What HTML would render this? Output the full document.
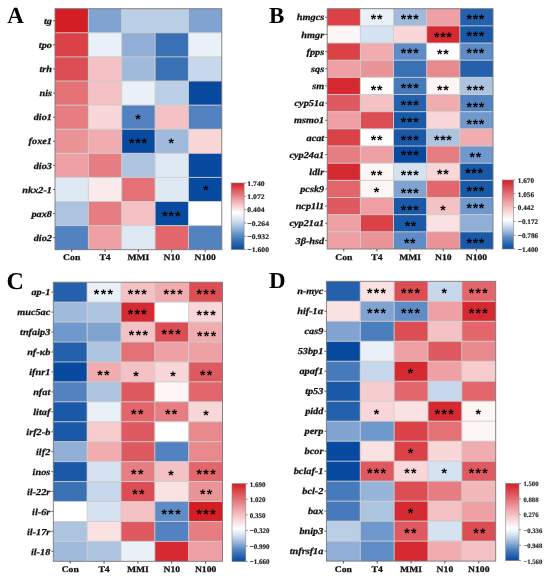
<!DOCTYPE html>
<html><head><meta charset="utf-8"><title>Heatmaps</title><style>html,body{margin:0;padding:0;background:#fff;}
svg{display:block;filter:blur(0.35px);}
text{text-rendering:geometricPrecision;}
.rl{font-family:"Liberation Serif",serif;font-weight:bold;font-style:italic;font-size:9.1px;fill:#111;stroke:#111;stroke-width:0.25px;}
.cl{font-family:"Liberation Serif",serif;font-weight:bold;font-size:8.6px;fill:#111;stroke:#111;stroke-width:0.25px;}
.cb{font-family:"Liberation Serif",serif;font-weight:bold;font-size:7.0px;fill:#222;stroke:#222;stroke-width:0.15px;}
.st{font-family:"Liberation Sans",sans-serif;font-weight:bold;font-size:14px;fill:#000;letter-spacing:0.7px;}
.lt{font-family:"Liberation Serif",serif;font-weight:bold;font-size:23px;fill:#000;}</style></head><body>
<svg width="550" height="579" viewBox="0 0 550 579">
<rect width="550" height="579" fill="#fff"/>
<defs>
<linearGradient id="cbgA" x1="0" y1="0" x2="0" y2="1">
<stop offset="0.000" stop-color="#d41e26"/>
<stop offset="0.025" stop-color="#d62b33"/>
<stop offset="0.050" stop-color="#d93940"/>
<stop offset="0.075" stop-color="#dc464c"/>
<stop offset="0.100" stop-color="#de5359"/>
<stop offset="0.125" stop-color="#e06066"/>
<stop offset="0.150" stop-color="#e36d73"/>
<stop offset="0.175" stop-color="#e67a7f"/>
<stop offset="0.200" stop-color="#e8878c"/>
<stop offset="0.225" stop-color="#eb9498"/>
<stop offset="0.250" stop-color="#eea2a5"/>
<stop offset="0.275" stop-color="#f0aeb1"/>
<stop offset="0.300" stop-color="#f3babd"/>
<stop offset="0.325" stop-color="#f6c6c8"/>
<stop offset="0.350" stop-color="#f8d2d3"/>
<stop offset="0.375" stop-color="#fadede"/>
<stop offset="0.400" stop-color="#fce9e9"/>
<stop offset="0.425" stop-color="#fdf4f4"/>
<stop offset="0.450" stop-color="#ffffff"/>
<stop offset="0.475" stop-color="#f5f8fc"/>
<stop offset="0.500" stop-color="#ebf2f9"/>
<stop offset="0.525" stop-color="#e2ebf5"/>
<stop offset="0.550" stop-color="#d8e5f2"/>
<stop offset="0.575" stop-color="#cdddee"/>
<stop offset="0.600" stop-color="#c1d3e9"/>
<stop offset="0.625" stop-color="#b5cae5"/>
<stop offset="0.650" stop-color="#a9c1e0"/>
<stop offset="0.675" stop-color="#9db8db"/>
<stop offset="0.700" stop-color="#8eadd6"/>
<stop offset="0.725" stop-color="#80a3d1"/>
<stop offset="0.750" stop-color="#7199cc"/>
<stop offset="0.775" stop-color="#628ec7"/>
<stop offset="0.800" stop-color="#5685c2"/>
<stop offset="0.825" stop-color="#4b7dbd"/>
<stop offset="0.850" stop-color="#3f75b7"/>
<stop offset="0.875" stop-color="#346db2"/>
<stop offset="0.900" stop-color="#2a65ae"/>
<stop offset="0.925" stop-color="#215eaa"/>
<stop offset="0.950" stop-color="#1958a7"/>
<stop offset="0.975" stop-color="#1051a3"/>
<stop offset="1.000" stop-color="#084aa0"/>
</linearGradient>
<linearGradient id="cbgB" x1="0" y1="0" x2="0" y2="1">
<stop offset="0.000" stop-color="#d41e26"/>
<stop offset="0.025" stop-color="#d62830"/>
<stop offset="0.050" stop-color="#d8333a"/>
<stop offset="0.075" stop-color="#da3d44"/>
<stop offset="0.100" stop-color="#dc484e"/>
<stop offset="0.125" stop-color="#de5258"/>
<stop offset="0.150" stop-color="#e05c62"/>
<stop offset="0.175" stop-color="#e2676c"/>
<stop offset="0.200" stop-color="#e47176"/>
<stop offset="0.225" stop-color="#e67b80"/>
<stop offset="0.250" stop-color="#e8858a"/>
<stop offset="0.275" stop-color="#ea8f94"/>
<stop offset="0.300" stop-color="#ec9a9d"/>
<stop offset="0.325" stop-color="#eea4a7"/>
<stop offset="0.350" stop-color="#f0aeb1"/>
<stop offset="0.375" stop-color="#f2b7ba"/>
<stop offset="0.400" stop-color="#f4c1c3"/>
<stop offset="0.425" stop-color="#f6cacc"/>
<stop offset="0.450" stop-color="#f8d3d4"/>
<stop offset="0.475" stop-color="#fadcdd"/>
<stop offset="0.500" stop-color="#fbe5e6"/>
<stop offset="0.525" stop-color="#fceeee"/>
<stop offset="0.550" stop-color="#fef6f7"/>
<stop offset="0.575" stop-color="#ffffff"/>
<stop offset="0.600" stop-color="#f2f6fb"/>
<stop offset="0.625" stop-color="#e6eef7"/>
<stop offset="0.650" stop-color="#d9e5f3"/>
<stop offset="0.675" stop-color="#cbdbed"/>
<stop offset="0.700" stop-color="#bccfe7"/>
<stop offset="0.725" stop-color="#acc3e1"/>
<stop offset="0.750" stop-color="#9cb7db"/>
<stop offset="0.775" stop-color="#89aad4"/>
<stop offset="0.800" stop-color="#769cce"/>
<stop offset="0.825" stop-color="#638fc7"/>
<stop offset="0.850" stop-color="#5384c1"/>
<stop offset="0.875" stop-color="#4579ba"/>
<stop offset="0.900" stop-color="#366eb3"/>
<stop offset="0.925" stop-color="#2964ad"/>
<stop offset="0.950" stop-color="#1e5ca9"/>
<stop offset="0.975" stop-color="#1353a4"/>
<stop offset="1.000" stop-color="#084aa0"/>
</linearGradient>
<linearGradient id="cbgC" x1="0" y1="0" x2="0" y2="1">
<stop offset="0.000" stop-color="#d41e26"/>
<stop offset="0.025" stop-color="#d62830"/>
<stop offset="0.050" stop-color="#d8333a"/>
<stop offset="0.075" stop-color="#da3d44"/>
<stop offset="0.100" stop-color="#dc484e"/>
<stop offset="0.125" stop-color="#de5258"/>
<stop offset="0.150" stop-color="#e05c62"/>
<stop offset="0.175" stop-color="#e2666c"/>
<stop offset="0.200" stop-color="#e47076"/>
<stop offset="0.225" stop-color="#e67a80"/>
<stop offset="0.250" stop-color="#e88589"/>
<stop offset="0.275" stop-color="#ea8f93"/>
<stop offset="0.300" stop-color="#ec999d"/>
<stop offset="0.325" stop-color="#eea3a7"/>
<stop offset="0.350" stop-color="#f0adb0"/>
<stop offset="0.375" stop-color="#f2b6b9"/>
<stop offset="0.400" stop-color="#f4c0c2"/>
<stop offset="0.425" stop-color="#f6c9cb"/>
<stop offset="0.450" stop-color="#f8d2d4"/>
<stop offset="0.475" stop-color="#fadbdc"/>
<stop offset="0.500" stop-color="#fbe4e5"/>
<stop offset="0.525" stop-color="#fceded"/>
<stop offset="0.550" stop-color="#fef5f6"/>
<stop offset="0.575" stop-color="#fffefe"/>
<stop offset="0.600" stop-color="#f4f7fb"/>
<stop offset="0.625" stop-color="#e7eff7"/>
<stop offset="0.650" stop-color="#dae6f3"/>
<stop offset="0.675" stop-color="#ccdcee"/>
<stop offset="0.700" stop-color="#bdd0e8"/>
<stop offset="0.725" stop-color="#adc4e1"/>
<stop offset="0.750" stop-color="#9eb8db"/>
<stop offset="0.775" stop-color="#8aabd5"/>
<stop offset="0.800" stop-color="#779dce"/>
<stop offset="0.825" stop-color="#648fc8"/>
<stop offset="0.850" stop-color="#5484c1"/>
<stop offset="0.875" stop-color="#4579ba"/>
<stop offset="0.900" stop-color="#366fb3"/>
<stop offset="0.925" stop-color="#2965ad"/>
<stop offset="0.950" stop-color="#1e5ca9"/>
<stop offset="0.975" stop-color="#1353a4"/>
<stop offset="1.000" stop-color="#084aa0"/>
</linearGradient>
<linearGradient id="cbgD" x1="0" y1="0" x2="0" y2="1">
<stop offset="0.000" stop-color="#d41e26"/>
<stop offset="0.025" stop-color="#d62830"/>
<stop offset="0.050" stop-color="#d8333a"/>
<stop offset="0.075" stop-color="#da3d44"/>
<stop offset="0.100" stop-color="#dc474d"/>
<stop offset="0.125" stop-color="#de5157"/>
<stop offset="0.150" stop-color="#e05b61"/>
<stop offset="0.175" stop-color="#e1656b"/>
<stop offset="0.200" stop-color="#e36f75"/>
<stop offset="0.225" stop-color="#e57a7f"/>
<stop offset="0.250" stop-color="#e78488"/>
<stop offset="0.275" stop-color="#ea8e92"/>
<stop offset="0.300" stop-color="#ec989c"/>
<stop offset="0.325" stop-color="#eea2a5"/>
<stop offset="0.350" stop-color="#f0acaf"/>
<stop offset="0.375" stop-color="#f2b5b8"/>
<stop offset="0.400" stop-color="#f4bec0"/>
<stop offset="0.425" stop-color="#f6c7c9"/>
<stop offset="0.450" stop-color="#f8d1d2"/>
<stop offset="0.475" stop-color="#f9dadb"/>
<stop offset="0.500" stop-color="#fbe2e3"/>
<stop offset="0.525" stop-color="#fcebeb"/>
<stop offset="0.550" stop-color="#fdf3f4"/>
<stop offset="0.575" stop-color="#fffcfc"/>
<stop offset="0.600" stop-color="#f7f9fc"/>
<stop offset="0.625" stop-color="#eaf1f8"/>
<stop offset="0.650" stop-color="#dde8f4"/>
<stop offset="0.675" stop-color="#cfdeef"/>
<stop offset="0.700" stop-color="#c0d2e9"/>
<stop offset="0.725" stop-color="#b0c6e2"/>
<stop offset="0.750" stop-color="#a0badc"/>
<stop offset="0.775" stop-color="#8dacd5"/>
<stop offset="0.800" stop-color="#799fcf"/>
<stop offset="0.825" stop-color="#6691c8"/>
<stop offset="0.850" stop-color="#5585c1"/>
<stop offset="0.875" stop-color="#467abb"/>
<stop offset="0.900" stop-color="#376fb4"/>
<stop offset="0.925" stop-color="#2965ae"/>
<stop offset="0.950" stop-color="#1e5ca9"/>
<stop offset="0.975" stop-color="#1353a5"/>
<stop offset="1.000" stop-color="#084aa0"/>
</linearGradient>
</defs>
<rect x="55.00" y="8.70" width="33.41" height="24.15" fill="#d41e26"/>
<rect x="88.36" y="8.70" width="33.41" height="24.15" fill="#80a3d1"/>
<rect x="121.72" y="8.70" width="33.41" height="24.15" fill="#bacee6"/>
<rect x="155.08" y="8.70" width="33.41" height="24.15" fill="#bacee6"/>
<rect x="188.44" y="8.70" width="33.41" height="24.15" fill="#80a3d1"/>
<rect x="55.00" y="32.80" width="33.41" height="24.15" fill="#db4248"/>
<rect x="88.36" y="32.80" width="33.41" height="24.15" fill="#eaf0f8"/>
<rect x="121.72" y="32.80" width="33.41" height="24.15" fill="#90aed6"/>
<rect x="155.08" y="32.80" width="33.41" height="24.15" fill="#3a71b5"/>
<rect x="188.44" y="32.80" width="33.41" height="24.15" fill="#eaf0f8"/>
<rect x="55.00" y="56.90" width="33.41" height="24.15" fill="#dd4e54"/>
<rect x="88.36" y="56.90" width="33.41" height="24.15" fill="#f4c2c4"/>
<rect x="121.72" y="56.90" width="33.41" height="24.15" fill="#a0badc"/>
<rect x="155.08" y="56.90" width="33.41" height="24.15" fill="#3a71b5"/>
<rect x="188.44" y="56.90" width="33.41" height="24.15" fill="#c7d8ec"/>
<rect x="55.00" y="81.00" width="33.41" height="24.15" fill="#e47176"/>
<rect x="88.36" y="81.00" width="33.41" height="24.15" fill="#f4c2c4"/>
<rect x="121.72" y="81.00" width="33.41" height="24.15" fill="#eaf0f8"/>
<rect x="155.08" y="81.00" width="33.41" height="24.15" fill="#bacee6"/>
<rect x="188.44" y="81.00" width="33.41" height="24.15" fill="#084aa0"/>
<rect x="55.00" y="105.10" width="33.41" height="24.15" fill="#e67d82"/>
<rect x="88.36" y="105.10" width="33.41" height="24.15" fill="#f9d7d8"/>
<rect x="121.72" y="105.10" width="33.41" height="24.15" fill="#5283c0"/>
<rect x="155.08" y="105.10" width="33.41" height="24.15" fill="#f4c2c4"/>
<rect x="188.44" y="105.10" width="33.41" height="24.15" fill="#5283c0"/>
<rect x="55.00" y="129.20" width="33.41" height="24.15" fill="#eb9498"/>
<rect x="88.36" y="129.20" width="33.41" height="24.15" fill="#f0acaf"/>
<rect x="121.72" y="129.20" width="33.41" height="24.15" fill="#084aa0"/>
<rect x="155.08" y="129.20" width="33.41" height="24.15" fill="#a0badc"/>
<rect x="188.44" y="129.20" width="33.41" height="24.15" fill="#f9d7d8"/>
<rect x="55.00" y="153.30" width="33.41" height="24.15" fill="#eea0a4"/>
<rect x="88.36" y="153.30" width="33.41" height="24.15" fill="#e67d82"/>
<rect x="121.72" y="153.30" width="33.41" height="24.15" fill="#adc4e1"/>
<rect x="155.08" y="153.30" width="33.41" height="24.15" fill="#dfe9f4"/>
<rect x="188.44" y="153.30" width="33.41" height="24.15" fill="#084aa0"/>
<rect x="55.00" y="177.40" width="33.41" height="24.15" fill="#dfe9f4"/>
<rect x="88.36" y="177.40" width="33.41" height="24.15" fill="#fcebec"/>
<rect x="121.72" y="177.40" width="33.41" height="24.15" fill="#e47176"/>
<rect x="155.08" y="177.40" width="33.41" height="24.15" fill="#dfe9f4"/>
<rect x="188.44" y="177.40" width="33.41" height="24.15" fill="#084aa0"/>
<rect x="55.00" y="201.50" width="33.41" height="24.15" fill="#adc4e1"/>
<rect x="88.36" y="201.50" width="33.41" height="24.15" fill="#e67d82"/>
<rect x="121.72" y="201.50" width="33.41" height="24.15" fill="#f4c2c4"/>
<rect x="155.08" y="201.50" width="33.41" height="24.15" fill="#084aa0"/>
<rect x="188.44" y="201.50" width="33.41" height="24.15" fill="#ffffff"/>
<rect x="55.00" y="225.60" width="33.41" height="24.15" fill="#5283c0"/>
<rect x="88.36" y="225.60" width="33.41" height="24.15" fill="#eea0a4"/>
<rect x="121.72" y="225.60" width="33.41" height="24.15" fill="#dfe9f4"/>
<rect x="155.08" y="225.60" width="33.41" height="24.15" fill="#e2666b"/>
<rect x="188.44" y="225.60" width="33.41" height="24.15" fill="#5283c0"/>
<line x1="88.36" y1="8.7" x2="88.36" y2="249.7" stroke="#cccccc" stroke-width="0.9"/>
<line x1="121.72" y1="8.7" x2="121.72" y2="249.7" stroke="#cccccc" stroke-width="0.9"/>
<line x1="155.08" y1="8.7" x2="155.08" y2="249.7" stroke="#cccccc" stroke-width="0.9"/>
<line x1="188.44" y1="8.7" x2="188.44" y2="249.7" stroke="#cccccc" stroke-width="0.9"/>
<line x1="55" y1="32.80" x2="221.8" y2="32.80" stroke="#cccccc" stroke-width="0.9"/>
<line x1="55" y1="56.90" x2="221.8" y2="56.90" stroke="#cccccc" stroke-width="0.9"/>
<line x1="55" y1="81.00" x2="221.8" y2="81.00" stroke="#cccccc" stroke-width="0.9"/>
<line x1="55" y1="105.10" x2="221.8" y2="105.10" stroke="#cccccc" stroke-width="0.9"/>
<line x1="55" y1="129.20" x2="221.8" y2="129.20" stroke="#cccccc" stroke-width="0.9"/>
<line x1="55" y1="153.30" x2="221.8" y2="153.30" stroke="#cccccc" stroke-width="0.9"/>
<line x1="55" y1="177.40" x2="221.8" y2="177.40" stroke="#cccccc" stroke-width="0.9"/>
<line x1="55" y1="201.50" x2="221.8" y2="201.50" stroke="#cccccc" stroke-width="0.9"/>
<line x1="55" y1="225.60" x2="221.8" y2="225.60" stroke="#cccccc" stroke-width="0.9"/>
<rect x="55" y="8.7" width="166.80" height="241.00" fill="none" stroke="#7a7a7a" stroke-width="0.9"/>
<text x="138.40" y="124.35" class="st" text-anchor="middle" style="letter-spacing:0.9px">*</text>
<text x="138.40" y="148.45" class="st" text-anchor="middle" style="letter-spacing:0.9px">***</text>
<text x="171.76" y="148.45" class="st" text-anchor="middle" style="letter-spacing:0.9px">*</text>
<text x="206.12" y="195.25" class="st" text-anchor="middle" style="letter-spacing:0.9px">*</text>
<text x="171.76" y="220.75" class="st" text-anchor="middle" style="letter-spacing:0.9px">***</text>
<line x1="53.00" y1="20.75" x2="55.00" y2="20.75" stroke="#444" stroke-width="0.8"/>
<text transform="translate(52.00,23.95) scale(1.13,1)" class="rl" text-anchor="end">tg</text>
<line x1="53.00" y1="44.85" x2="55.00" y2="44.85" stroke="#444" stroke-width="0.8"/>
<text transform="translate(52.00,48.05) scale(1.13,1)" class="rl" text-anchor="end">tpo</text>
<line x1="53.00" y1="68.95" x2="55.00" y2="68.95" stroke="#444" stroke-width="0.8"/>
<text transform="translate(52.00,72.15) scale(1.13,1)" class="rl" text-anchor="end">trh</text>
<line x1="53.00" y1="93.05" x2="55.00" y2="93.05" stroke="#444" stroke-width="0.8"/>
<text transform="translate(52.00,96.25) scale(1.13,1)" class="rl" text-anchor="end">nis</text>
<line x1="53.00" y1="117.15" x2="55.00" y2="117.15" stroke="#444" stroke-width="0.8"/>
<text transform="translate(52.00,120.35) scale(1.13,1)" class="rl" text-anchor="end">dio1</text>
<line x1="53.00" y1="141.25" x2="55.00" y2="141.25" stroke="#444" stroke-width="0.8"/>
<text transform="translate(52.00,144.45) scale(1.13,1)" class="rl" text-anchor="end">foxe1</text>
<line x1="53.00" y1="165.35" x2="55.00" y2="165.35" stroke="#444" stroke-width="0.8"/>
<text transform="translate(52.00,168.55) scale(1.13,1)" class="rl" text-anchor="end">dio3</text>
<line x1="53.00" y1="189.45" x2="55.00" y2="189.45" stroke="#444" stroke-width="0.8"/>
<text transform="translate(52.00,192.65) scale(1.13,1)" class="rl" text-anchor="end">nkx2-1</text>
<line x1="53.00" y1="213.55" x2="55.00" y2="213.55" stroke="#444" stroke-width="0.8"/>
<text transform="translate(52.00,216.75) scale(1.13,1)" class="rl" text-anchor="end">pax8</text>
<line x1="53.00" y1="237.65" x2="55.00" y2="237.65" stroke="#444" stroke-width="0.8"/>
<text transform="translate(52.00,240.85) scale(1.13,1)" class="rl" text-anchor="end">dio2</text>
<line x1="71.68" y1="249.7" x2="71.68" y2="252.10" stroke="#333" stroke-width="0.8"/>
<text transform="translate(71.68,260.20) scale(1.12,1)" class="cl" text-anchor="middle">Con</text>
<line x1="105.04" y1="249.7" x2="105.04" y2="252.10" stroke="#333" stroke-width="0.8"/>
<text transform="translate(105.04,260.20) scale(1.12,1)" class="cl" text-anchor="middle">T4</text>
<line x1="138.40" y1="249.7" x2="138.40" y2="252.10" stroke="#333" stroke-width="0.8"/>
<text transform="translate(138.40,260.20) scale(1.12,1)" class="cl" text-anchor="middle">MMI</text>
<line x1="171.76" y1="249.7" x2="171.76" y2="252.10" stroke="#333" stroke-width="0.8"/>
<text transform="translate(171.76,260.20) scale(1.12,1)" class="cl" text-anchor="middle">N10</text>
<line x1="205.12" y1="249.7" x2="205.12" y2="252.10" stroke="#333" stroke-width="0.8"/>
<text transform="translate(205.12,260.20) scale(1.12,1)" class="cl" text-anchor="middle">N100</text>
<rect x="231.2" y="183" width="12.90" height="66.60" fill="url(#cbgA)" stroke="#888" stroke-width="0.6"/>
<line x1="244.10" y1="183.00" x2="246.10" y2="183.00" stroke="#555" stroke-width="0.6"/>
<text transform="translate(247.30,185.80) scale(1.1,1)" class="cb" style="font-size:7.0px">1.740</text>
<line x1="244.10" y1="196.32" x2="246.10" y2="196.32" stroke="#555" stroke-width="0.6"/>
<text transform="translate(247.30,199.12) scale(1.1,1)" class="cb" style="font-size:7.0px">1.072</text>
<line x1="244.10" y1="209.64" x2="246.10" y2="209.64" stroke="#555" stroke-width="0.6"/>
<text transform="translate(247.30,212.44) scale(1.1,1)" class="cb" style="font-size:7.0px">0.404</text>
<line x1="244.10" y1="222.96" x2="246.10" y2="222.96" stroke="#555" stroke-width="0.6"/>
<text transform="translate(247.30,225.76) scale(1.1,1)" class="cb" style="font-size:7.0px">−0.264</text>
<line x1="244.10" y1="236.28" x2="246.10" y2="236.28" stroke="#555" stroke-width="0.6"/>
<text transform="translate(247.30,239.08) scale(1.1,1)" class="cb" style="font-size:7.0px">−0.932</text>
<line x1="244.10" y1="249.60" x2="246.10" y2="249.60" stroke="#555" stroke-width="0.6"/>
<text transform="translate(247.30,252.40) scale(1.1,1)" class="cb" style="font-size:7.0px">−1.600</text>
<text transform="translate(7.2,23.15) scale(1.0,1)" class="lt" style="">A</text>
<rect x="327.20" y="8.70" width="33.21" height="17.21" fill="#db4248"/>
<rect x="360.36" y="8.70" width="33.21" height="17.21" fill="#eaf0f8"/>
<rect x="393.52" y="8.70" width="33.21" height="17.21" fill="#a0badc"/>
<rect x="426.68" y="8.70" width="33.21" height="17.21" fill="#eea0a4"/>
<rect x="459.84" y="8.70" width="33.21" height="17.21" fill="#2460ab"/>
<rect x="327.20" y="25.86" width="33.21" height="17.21" fill="#fef5f5"/>
<rect x="360.36" y="25.86" width="33.21" height="17.21" fill="#d4e2f1"/>
<rect x="393.52" y="25.86" width="33.21" height="17.21" fill="#f9d7d8"/>
<rect x="426.68" y="25.86" width="33.21" height="17.21" fill="#d62a32"/>
<rect x="459.84" y="25.86" width="33.21" height="17.21" fill="#1a59a8"/>
<rect x="327.20" y="43.03" width="33.21" height="17.21" fill="#db4248"/>
<rect x="360.36" y="43.03" width="33.21" height="17.21" fill="#f0acaf"/>
<rect x="393.52" y="43.03" width="33.21" height="17.21" fill="#5f8cc6"/>
<rect x="426.68" y="43.03" width="33.21" height="17.21" fill="#ffffff"/>
<rect x="459.84" y="43.03" width="33.21" height="17.21" fill="#5f8cc6"/>
<rect x="327.20" y="60.19" width="33.21" height="17.21" fill="#eea0a4"/>
<rect x="360.36" y="60.19" width="33.21" height="17.21" fill="#eb9498"/>
<rect x="393.52" y="60.19" width="33.21" height="17.21" fill="#3a71b5"/>
<rect x="426.68" y="60.19" width="33.21" height="17.21" fill="#e8898d"/>
<rect x="459.84" y="60.19" width="33.21" height="17.21" fill="#2460ab"/>
<rect x="327.20" y="77.36" width="33.21" height="17.21" fill="#d62a32"/>
<rect x="360.36" y="77.36" width="33.21" height="17.21" fill="#ffffff"/>
<rect x="393.52" y="77.36" width="33.21" height="17.21" fill="#467aba"/>
<rect x="426.68" y="77.36" width="33.21" height="17.21" fill="#fef5f5"/>
<rect x="459.84" y="77.36" width="33.21" height="17.21" fill="#adc4e1"/>
<rect x="327.20" y="94.52" width="33.21" height="17.21" fill="#df5a60"/>
<rect x="360.36" y="94.52" width="33.21" height="17.21" fill="#f4c2c4"/>
<rect x="393.52" y="94.52" width="33.21" height="17.21" fill="#2460ab"/>
<rect x="426.68" y="94.52" width="33.21" height="17.21" fill="#f0acaf"/>
<rect x="459.84" y="94.52" width="33.21" height="17.21" fill="#5283c0"/>
<rect x="327.20" y="111.69" width="33.21" height="17.21" fill="#eea0a4"/>
<rect x="360.36" y="111.69" width="33.21" height="17.21" fill="#dd4e54"/>
<rect x="393.52" y="111.69" width="33.21" height="17.21" fill="#1a59a8"/>
<rect x="426.68" y="111.69" width="33.21" height="17.21" fill="#f9d7d8"/>
<rect x="459.84" y="111.69" width="33.21" height="17.21" fill="#6f98cc"/>
<rect x="327.20" y="128.85" width="33.21" height="17.21" fill="#db4248"/>
<rect x="360.36" y="128.85" width="33.21" height="17.21" fill="#ffffff"/>
<rect x="393.52" y="128.85" width="33.21" height="17.21" fill="#1a59a8"/>
<rect x="426.68" y="128.85" width="33.21" height="17.21" fill="#adc4e1"/>
<rect x="459.84" y="128.85" width="33.21" height="17.21" fill="#f0acaf"/>
<rect x="327.20" y="146.01" width="33.21" height="17.21" fill="#e67d82"/>
<rect x="360.36" y="146.01" width="33.21" height="17.21" fill="#eea0a4"/>
<rect x="393.52" y="146.01" width="33.21" height="17.21" fill="#084aa0"/>
<rect x="426.68" y="146.01" width="33.21" height="17.21" fill="#e67d82"/>
<rect x="459.84" y="146.01" width="33.21" height="17.21" fill="#6f98cc"/>
<rect x="327.20" y="163.18" width="33.21" height="17.21" fill="#d62a32"/>
<rect x="360.36" y="163.18" width="33.21" height="17.21" fill="#fef5f5"/>
<rect x="393.52" y="163.18" width="33.21" height="17.21" fill="#d4e2f1"/>
<rect x="426.68" y="163.18" width="33.21" height="17.21" fill="#f9d7d8"/>
<rect x="459.84" y="163.18" width="33.21" height="17.21" fill="#1a59a8"/>
<rect x="327.20" y="180.34" width="33.21" height="17.21" fill="#e2666b"/>
<rect x="360.36" y="180.34" width="33.21" height="17.21" fill="#fef5f5"/>
<rect x="393.52" y="180.34" width="33.21" height="17.21" fill="#80a3d1"/>
<rect x="426.68" y="180.34" width="33.21" height="17.21" fill="#e2666b"/>
<rect x="459.84" y="180.34" width="33.21" height="17.21" fill="#1a59a8"/>
<rect x="327.20" y="197.51" width="33.21" height="17.21" fill="#df5a60"/>
<rect x="360.36" y="197.51" width="33.21" height="17.21" fill="#eea0a4"/>
<rect x="393.52" y="197.51" width="33.21" height="17.21" fill="#1a59a8"/>
<rect x="426.68" y="197.51" width="33.21" height="17.21" fill="#f4c2c4"/>
<rect x="459.84" y="197.51" width="33.21" height="17.21" fill="#6f98cc"/>
<rect x="327.20" y="214.67" width="33.21" height="17.21" fill="#eea0a4"/>
<rect x="360.36" y="214.67" width="33.21" height="17.21" fill="#db4248"/>
<rect x="393.52" y="214.67" width="33.21" height="17.21" fill="#1a59a8"/>
<rect x="426.68" y="214.67" width="33.21" height="17.21" fill="#fae1e2"/>
<rect x="459.84" y="214.67" width="33.21" height="17.21" fill="#90aed6"/>
<rect x="327.20" y="231.84" width="33.21" height="17.21" fill="#eea0a4"/>
<rect x="360.36" y="231.84" width="33.21" height="17.21" fill="#eb9498"/>
<rect x="393.52" y="231.84" width="33.21" height="17.21" fill="#5f8cc6"/>
<rect x="426.68" y="231.84" width="33.21" height="17.21" fill="#eb9498"/>
<rect x="459.84" y="231.84" width="33.21" height="17.21" fill="#1a59a8"/>
<line x1="360.36" y1="8.7" x2="360.36" y2="249" stroke="#cccccc" stroke-width="0.9"/>
<line x1="393.52" y1="8.7" x2="393.52" y2="249" stroke="#cccccc" stroke-width="0.9"/>
<line x1="426.68" y1="8.7" x2="426.68" y2="249" stroke="#cccccc" stroke-width="0.9"/>
<line x1="459.84" y1="8.7" x2="459.84" y2="249" stroke="#cccccc" stroke-width="0.9"/>
<line x1="327.2" y1="25.86" x2="493" y2="25.86" stroke="#cccccc" stroke-width="0.9"/>
<line x1="327.2" y1="43.03" x2="493" y2="43.03" stroke="#cccccc" stroke-width="0.9"/>
<line x1="327.2" y1="60.19" x2="493" y2="60.19" stroke="#cccccc" stroke-width="0.9"/>
<line x1="327.2" y1="77.36" x2="493" y2="77.36" stroke="#cccccc" stroke-width="0.9"/>
<line x1="327.2" y1="94.52" x2="493" y2="94.52" stroke="#cccccc" stroke-width="0.9"/>
<line x1="327.2" y1="111.69" x2="493" y2="111.69" stroke="#cccccc" stroke-width="0.9"/>
<line x1="327.2" y1="128.85" x2="493" y2="128.85" stroke="#cccccc" stroke-width="0.9"/>
<line x1="327.2" y1="146.01" x2="493" y2="146.01" stroke="#cccccc" stroke-width="0.9"/>
<line x1="327.2" y1="163.18" x2="493" y2="163.18" stroke="#cccccc" stroke-width="0.9"/>
<line x1="327.2" y1="180.34" x2="493" y2="180.34" stroke="#cccccc" stroke-width="0.9"/>
<line x1="327.2" y1="197.51" x2="493" y2="197.51" stroke="#cccccc" stroke-width="0.9"/>
<line x1="327.2" y1="214.67" x2="493" y2="214.67" stroke="#cccccc" stroke-width="0.9"/>
<line x1="327.2" y1="231.84" x2="493" y2="231.84" stroke="#cccccc" stroke-width="0.9"/>
<rect x="327.2" y="8.7" width="165.80" height="240.30" fill="none" stroke="#7a7a7a" stroke-width="0.9"/>
<text x="376.94" y="24.48" class="st" text-anchor="middle" style="letter-spacing:0.7px">**</text>
<text x="410.10" y="24.48" class="st" text-anchor="middle" style="letter-spacing:0.7px">***</text>
<text x="475.72" y="24.48" class="st" text-anchor="middle" style="letter-spacing:0.7px">***</text>
<text x="443.26" y="41.65" class="st" text-anchor="middle" style="letter-spacing:0.7px">***</text>
<text x="475.72" y="40.85" class="st" text-anchor="middle" style="letter-spacing:0.7px">***</text>
<text x="410.10" y="58.11" class="st" text-anchor="middle" style="letter-spacing:0.7px">***</text>
<text x="443.26" y="58.81" class="st" text-anchor="middle" style="letter-spacing:0.7px">**</text>
<text x="475.72" y="58.01" class="st" text-anchor="middle" style="letter-spacing:0.7px">***</text>
<text x="376.94" y="94.64" class="st" text-anchor="middle" style="letter-spacing:0.7px">**</text>
<text x="410.10" y="93.14" class="st" text-anchor="middle" style="letter-spacing:0.7px">***</text>
<text x="443.26" y="94.64" class="st" text-anchor="middle" style="letter-spacing:0.7px">**</text>
<text x="475.72" y="94.64" class="st" text-anchor="middle" style="letter-spacing:0.7px">***</text>
<text x="410.10" y="109.60" class="st" text-anchor="middle" style="letter-spacing:0.7px">***</text>
<text x="475.72" y="112.00" class="st" text-anchor="middle" style="letter-spacing:0.7px">***</text>
<text x="410.10" y="127.47" class="st" text-anchor="middle" style="letter-spacing:0.7px">***</text>
<text x="475.72" y="128.67" class="st" text-anchor="middle" style="letter-spacing:0.7px">***</text>
<text x="376.94" y="145.33" class="st" text-anchor="middle" style="letter-spacing:0.7px">**</text>
<text x="410.10" y="144.63" class="st" text-anchor="middle" style="letter-spacing:0.7px">***</text>
<text x="443.26" y="145.33" class="st" text-anchor="middle" style="letter-spacing:0.7px">***</text>
<text x="410.10" y="160.10" class="st" text-anchor="middle" style="letter-spacing:0.7px">***</text>
<text x="475.72" y="161.80" class="st" text-anchor="middle" style="letter-spacing:0.7px">**</text>
<text x="376.94" y="179.66" class="st" text-anchor="middle" style="letter-spacing:0.7px">**</text>
<text x="410.10" y="179.66" class="st" text-anchor="middle" style="letter-spacing:0.7px">***</text>
<text x="443.26" y="178.96" class="st" text-anchor="middle" style="letter-spacing:0.7px">**</text>
<text x="474.42" y="178.26" class="st" text-anchor="middle" style="letter-spacing:0.7px">***</text>
<text x="376.94" y="197.32" class="st" text-anchor="middle" style="letter-spacing:0.7px">*</text>
<text x="410.10" y="197.82" class="st" text-anchor="middle" style="letter-spacing:0.7px">***</text>
<text x="475.72" y="196.12" class="st" text-anchor="middle" style="letter-spacing:0.7px">***</text>
<text x="410.10" y="214.99" class="st" text-anchor="middle" style="letter-spacing:0.7px">***</text>
<text x="443.26" y="214.99" class="st" text-anchor="middle" style="letter-spacing:0.7px">*</text>
<text x="475.72" y="213.29" class="st" text-anchor="middle" style="letter-spacing:0.7px">***</text>
<text x="410.80" y="231.15" class="st" text-anchor="middle" style="letter-spacing:0.7px">**</text>
<text x="410.10" y="247.62" class="st" text-anchor="middle" style="letter-spacing:0.7px">**</text>
<text x="475.72" y="247.62" class="st" text-anchor="middle" style="letter-spacing:0.7px">***</text>
<line x1="325.20" y1="17.28" x2="327.20" y2="17.28" stroke="#444" stroke-width="0.8"/>
<text transform="translate(324.20,20.48) scale(1.13,1)" class="rl" text-anchor="end">hmgcs</text>
<line x1="325.20" y1="34.45" x2="327.20" y2="34.45" stroke="#444" stroke-width="0.8"/>
<text transform="translate(324.20,37.65) scale(1.13,1)" class="rl" text-anchor="end">hmgr</text>
<line x1="325.20" y1="51.61" x2="327.20" y2="51.61" stroke="#444" stroke-width="0.8"/>
<text transform="translate(324.20,54.81) scale(1.13,1)" class="rl" text-anchor="end">fpps</text>
<line x1="325.20" y1="68.78" x2="327.20" y2="68.78" stroke="#444" stroke-width="0.8"/>
<text transform="translate(324.20,71.98) scale(1.13,1)" class="rl" text-anchor="end">sqs</text>
<line x1="325.20" y1="85.94" x2="327.20" y2="85.94" stroke="#444" stroke-width="0.8"/>
<text transform="translate(324.20,89.14) scale(1.13,1)" class="rl" text-anchor="end">sm</text>
<line x1="325.20" y1="103.10" x2="327.20" y2="103.10" stroke="#444" stroke-width="0.8"/>
<text transform="translate(324.20,106.30) scale(1.13,1)" class="rl" text-anchor="end">cyp51a</text>
<line x1="325.20" y1="120.27" x2="327.20" y2="120.27" stroke="#444" stroke-width="0.8"/>
<text transform="translate(324.20,123.47) scale(1.13,1)" class="rl" text-anchor="end">msmo1</text>
<line x1="325.20" y1="137.43" x2="327.20" y2="137.43" stroke="#444" stroke-width="0.8"/>
<text transform="translate(324.20,140.63) scale(1.13,1)" class="rl" text-anchor="end">acat</text>
<line x1="325.20" y1="154.60" x2="327.20" y2="154.60" stroke="#444" stroke-width="0.8"/>
<text transform="translate(324.20,157.80) scale(1.13,1)" class="rl" text-anchor="end">cyp24a1</text>
<line x1="325.20" y1="171.76" x2="327.20" y2="171.76" stroke="#444" stroke-width="0.8"/>
<text transform="translate(324.20,174.96) scale(1.13,1)" class="rl" text-anchor="end">ldlr</text>
<line x1="325.20" y1="188.92" x2="327.20" y2="188.92" stroke="#444" stroke-width="0.8"/>
<text transform="translate(324.20,192.12) scale(1.13,1)" class="rl" text-anchor="end">pcsk9</text>
<line x1="325.20" y1="206.09" x2="327.20" y2="206.09" stroke="#444" stroke-width="0.8"/>
<text transform="translate(324.20,209.29) scale(1.13,1)" class="rl" text-anchor="end">ncp1l1</text>
<line x1="325.20" y1="223.25" x2="327.20" y2="223.25" stroke="#444" stroke-width="0.8"/>
<text transform="translate(324.20,226.45) scale(1.13,1)" class="rl" text-anchor="end">cyp21a1</text>
<line x1="325.20" y1="240.42" x2="327.20" y2="240.42" stroke="#444" stroke-width="0.8"/>
<text transform="translate(324.20,243.62) scale(1.13,1)" class="rl" text-anchor="end">3β-hsd</text>
<line x1="343.78" y1="249" x2="343.78" y2="251.40" stroke="#333" stroke-width="0.8"/>
<text transform="translate(343.78,259.50) scale(1.12,1)" class="cl" text-anchor="middle">Con</text>
<line x1="376.94" y1="249" x2="376.94" y2="251.40" stroke="#333" stroke-width="0.8"/>
<text transform="translate(376.94,259.50) scale(1.12,1)" class="cl" text-anchor="middle">T4</text>
<line x1="410.10" y1="249" x2="410.10" y2="251.40" stroke="#333" stroke-width="0.8"/>
<text transform="translate(410.10,259.50) scale(1.12,1)" class="cl" text-anchor="middle">MMI</text>
<line x1="443.26" y1="249" x2="443.26" y2="251.40" stroke="#333" stroke-width="0.8"/>
<text transform="translate(443.26,259.50) scale(1.12,1)" class="cl" text-anchor="middle">N10</text>
<line x1="476.42" y1="249" x2="476.42" y2="251.40" stroke="#333" stroke-width="0.8"/>
<text transform="translate(476.42,259.50) scale(1.12,1)" class="cl" text-anchor="middle">N100</text>
<rect x="502.2" y="180" width="11.30" height="69.00" fill="url(#cbgB)" stroke="#888" stroke-width="0.6"/>
<line x1="513.50" y1="180.00" x2="515.50" y2="180.00" stroke="#555" stroke-width="0.6"/>
<text transform="translate(517.80,182.80) scale(1.03,1)" class="cb" style="font-size:7.0px">1.670</text>
<line x1="513.50" y1="193.80" x2="515.50" y2="193.80" stroke="#555" stroke-width="0.6"/>
<text transform="translate(517.80,196.60) scale(1.03,1)" class="cb" style="font-size:7.0px">1.056</text>
<line x1="513.50" y1="207.60" x2="515.50" y2="207.60" stroke="#555" stroke-width="0.6"/>
<text transform="translate(517.80,210.40) scale(1.03,1)" class="cb" style="font-size:7.0px">0.442</text>
<line x1="513.50" y1="221.40" x2="515.50" y2="221.40" stroke="#555" stroke-width="0.6"/>
<text transform="translate(517.80,224.20) scale(1.03,1)" class="cb" style="font-size:7.0px">−0.172</text>
<line x1="513.50" y1="235.20" x2="515.50" y2="235.20" stroke="#555" stroke-width="0.6"/>
<text transform="translate(517.80,238.00) scale(1.03,1)" class="cb" style="font-size:7.0px">−0.786</text>
<line x1="513.50" y1="249.00" x2="515.50" y2="249.00" stroke="#555" stroke-width="0.6"/>
<text transform="translate(517.80,251.80) scale(1.03,1)" class="cb" style="font-size:7.0px">−1.400</text>
<text transform="translate(268.9,22.95) scale(1.0,1)" class="lt" style="">B</text>
<rect x="53.30" y="282.20" width="33.89" height="19.99" fill="#2460ab"/>
<rect x="87.14" y="282.20" width="33.89" height="19.99" fill="#eaf0f8"/>
<rect x="120.98" y="282.20" width="33.89" height="19.99" fill="#f4c2c4"/>
<rect x="154.82" y="282.20" width="33.89" height="19.99" fill="#f0acaf"/>
<rect x="188.66" y="282.20" width="33.89" height="19.99" fill="#dd4e54"/>
<rect x="53.30" y="302.14" width="33.89" height="19.99" fill="#a0badc"/>
<rect x="87.14" y="302.14" width="33.89" height="19.99" fill="#adc4e1"/>
<rect x="120.98" y="302.14" width="33.89" height="19.99" fill="#d62a32"/>
<rect x="154.82" y="302.14" width="33.89" height="19.99" fill="#ffffff"/>
<rect x="188.66" y="302.14" width="33.89" height="19.99" fill="#f9d7d8"/>
<rect x="53.30" y="322.07" width="33.89" height="19.99" fill="#6f98cc"/>
<rect x="87.14" y="322.07" width="33.89" height="19.99" fill="#80a3d1"/>
<rect x="120.98" y="322.07" width="33.89" height="19.99" fill="#f4c2c4"/>
<rect x="154.82" y="322.07" width="33.89" height="19.99" fill="#dd4e54"/>
<rect x="188.66" y="322.07" width="33.89" height="19.99" fill="#f0acaf"/>
<rect x="53.30" y="342.01" width="33.89" height="19.99" fill="#2460ab"/>
<rect x="87.14" y="342.01" width="33.89" height="19.99" fill="#adc4e1"/>
<rect x="120.98" y="342.01" width="33.89" height="19.99" fill="#e47176"/>
<rect x="154.82" y="342.01" width="33.89" height="19.99" fill="#eea0a4"/>
<rect x="188.66" y="342.01" width="33.89" height="19.99" fill="#eea0a4"/>
<rect x="53.30" y="361.94" width="33.89" height="19.99" fill="#084aa0"/>
<rect x="87.14" y="361.94" width="33.89" height="19.99" fill="#f0acaf"/>
<rect x="120.98" y="361.94" width="33.89" height="19.99" fill="#f4c2c4"/>
<rect x="154.82" y="361.94" width="33.89" height="19.99" fill="#f9d7d8"/>
<rect x="188.66" y="361.94" width="33.89" height="19.99" fill="#df5a60"/>
<rect x="53.30" y="381.88" width="33.89" height="19.99" fill="#5283c0"/>
<rect x="87.14" y="381.88" width="33.89" height="19.99" fill="#adc4e1"/>
<rect x="120.98" y="381.88" width="33.89" height="19.99" fill="#df5a60"/>
<rect x="154.82" y="381.88" width="33.89" height="19.99" fill="#fef5f5"/>
<rect x="188.66" y="381.88" width="33.89" height="19.99" fill="#e2666b"/>
<rect x="53.30" y="401.81" width="33.89" height="19.99" fill="#1a59a8"/>
<rect x="87.14" y="401.81" width="33.89" height="19.99" fill="#eaf0f8"/>
<rect x="120.98" y="401.81" width="33.89" height="19.99" fill="#e2666b"/>
<rect x="154.82" y="401.81" width="33.89" height="19.99" fill="#e67d82"/>
<rect x="188.66" y="401.81" width="33.89" height="19.99" fill="#f9d7d8"/>
<rect x="53.30" y="421.75" width="33.89" height="19.99" fill="#1a59a8"/>
<rect x="87.14" y="421.75" width="33.89" height="19.99" fill="#f7ccce"/>
<rect x="120.98" y="421.75" width="33.89" height="19.99" fill="#df5a60"/>
<rect x="154.82" y="421.75" width="33.89" height="19.99" fill="#ffffff"/>
<rect x="188.66" y="421.75" width="33.89" height="19.99" fill="#e8898d"/>
<rect x="53.30" y="441.69" width="33.89" height="19.99" fill="#90aed6"/>
<rect x="87.14" y="441.69" width="33.89" height="19.99" fill="#f0acaf"/>
<rect x="120.98" y="441.69" width="33.89" height="19.99" fill="#df5a60"/>
<rect x="154.82" y="441.69" width="33.89" height="19.99" fill="#5283c0"/>
<rect x="188.66" y="441.69" width="33.89" height="19.99" fill="#e8898d"/>
<rect x="53.30" y="461.62" width="33.89" height="19.99" fill="#1a59a8"/>
<rect x="87.14" y="461.62" width="33.89" height="19.99" fill="#d4e2f1"/>
<rect x="120.98" y="461.62" width="33.89" height="19.99" fill="#e67d82"/>
<rect x="154.82" y="461.62" width="33.89" height="19.99" fill="#f4c2c4"/>
<rect x="188.66" y="461.62" width="33.89" height="19.99" fill="#e2666b"/>
<rect x="53.30" y="481.56" width="33.89" height="19.99" fill="#3a71b5"/>
<rect x="87.14" y="481.56" width="33.89" height="19.99" fill="#c7d8ec"/>
<rect x="120.98" y="481.56" width="33.89" height="19.99" fill="#dd4e54"/>
<rect x="154.82" y="481.56" width="33.89" height="19.99" fill="#fae1e2"/>
<rect x="188.66" y="481.56" width="33.89" height="19.99" fill="#eb9498"/>
<rect x="53.30" y="501.49" width="33.89" height="19.99" fill="#ffffff"/>
<rect x="87.14" y="501.49" width="33.89" height="19.99" fill="#d4e2f1"/>
<rect x="120.98" y="501.49" width="33.89" height="19.99" fill="#f4c2c4"/>
<rect x="154.82" y="501.49" width="33.89" height="19.99" fill="#5f8cc6"/>
<rect x="188.66" y="501.49" width="33.89" height="19.99" fill="#d41e26"/>
<rect x="53.30" y="521.43" width="33.89" height="19.99" fill="#adc4e1"/>
<rect x="87.14" y="521.43" width="33.89" height="19.99" fill="#fae1e2"/>
<rect x="120.98" y="521.43" width="33.89" height="19.99" fill="#df5a60"/>
<rect x="154.82" y="521.43" width="33.89" height="19.99" fill="#5283c0"/>
<rect x="188.66" y="521.43" width="33.89" height="19.99" fill="#e67d82"/>
<rect x="53.30" y="541.36" width="33.89" height="19.99" fill="#a0badc"/>
<rect x="87.14" y="541.36" width="33.89" height="19.99" fill="#adc4e1"/>
<rect x="120.98" y="541.36" width="33.89" height="19.99" fill="#eaf0f8"/>
<rect x="154.82" y="541.36" width="33.89" height="19.99" fill="#d62a32"/>
<rect x="188.66" y="541.36" width="33.89" height="19.99" fill="#eea0a4"/>
<line x1="87.14" y1="282.2" x2="87.14" y2="561.3" stroke="#cccccc" stroke-width="0.9"/>
<line x1="120.98" y1="282.2" x2="120.98" y2="561.3" stroke="#cccccc" stroke-width="0.9"/>
<line x1="154.82" y1="282.2" x2="154.82" y2="561.3" stroke="#cccccc" stroke-width="0.9"/>
<line x1="188.66" y1="282.2" x2="188.66" y2="561.3" stroke="#cccccc" stroke-width="0.9"/>
<line x1="53.3" y1="302.14" x2="222.5" y2="302.14" stroke="#cccccc" stroke-width="0.9"/>
<line x1="53.3" y1="322.07" x2="222.5" y2="322.07" stroke="#cccccc" stroke-width="0.9"/>
<line x1="53.3" y1="342.01" x2="222.5" y2="342.01" stroke="#cccccc" stroke-width="0.9"/>
<line x1="53.3" y1="361.94" x2="222.5" y2="361.94" stroke="#cccccc" stroke-width="0.9"/>
<line x1="53.3" y1="381.88" x2="222.5" y2="381.88" stroke="#cccccc" stroke-width="0.9"/>
<line x1="53.3" y1="401.81" x2="222.5" y2="401.81" stroke="#cccccc" stroke-width="0.9"/>
<line x1="53.3" y1="421.75" x2="222.5" y2="421.75" stroke="#cccccc" stroke-width="0.9"/>
<line x1="53.3" y1="441.69" x2="222.5" y2="441.69" stroke="#cccccc" stroke-width="0.9"/>
<line x1="53.3" y1="461.62" x2="222.5" y2="461.62" stroke="#cccccc" stroke-width="0.9"/>
<line x1="53.3" y1="481.56" x2="222.5" y2="481.56" stroke="#cccccc" stroke-width="0.9"/>
<line x1="53.3" y1="501.49" x2="222.5" y2="501.49" stroke="#cccccc" stroke-width="0.9"/>
<line x1="53.3" y1="521.43" x2="222.5" y2="521.43" stroke="#cccccc" stroke-width="0.9"/>
<line x1="53.3" y1="541.36" x2="222.5" y2="541.36" stroke="#cccccc" stroke-width="0.9"/>
<rect x="53.3" y="282.2" width="169.20" height="279.10" fill="none" stroke="#7a7a7a" stroke-width="0.9"/>
<text x="104.06" y="299.37" class="st" text-anchor="middle" style="letter-spacing:1.4px">***</text>
<text x="137.90" y="299.37" class="st" text-anchor="middle" style="letter-spacing:1.4px">***</text>
<text x="173.74" y="299.37" class="st" text-anchor="middle" style="letter-spacing:1.4px">***</text>
<text x="206.78" y="299.37" class="st" text-anchor="middle" style="letter-spacing:1.4px">***</text>
<text x="137.90" y="319.30" class="st" text-anchor="middle" style="letter-spacing:1.4px">***</text>
<text x="206.78" y="320.00" class="st" text-anchor="middle" style="letter-spacing:1.4px">***</text>
<text x="139.10" y="339.94" class="st" text-anchor="middle" style="letter-spacing:1.4px">***</text>
<text x="171.74" y="339.24" class="st" text-anchor="middle" style="letter-spacing:1.4px">***</text>
<text x="207.28" y="340.94" class="st" text-anchor="middle" style="letter-spacing:1.4px">***</text>
<text x="104.06" y="380.31" class="st" text-anchor="middle" style="letter-spacing:1.4px">**</text>
<text x="136.70" y="380.81" class="st" text-anchor="middle" style="letter-spacing:1.4px">*</text>
<text x="173.74" y="380.81" class="st" text-anchor="middle" style="letter-spacing:1.4px">*</text>
<text x="206.78" y="379.81" class="st" text-anchor="middle" style="letter-spacing:1.4px">**</text>
<text x="137.90" y="418.98" class="st" text-anchor="middle" style="letter-spacing:1.4px">**</text>
<text x="171.74" y="418.98" class="st" text-anchor="middle" style="letter-spacing:1.4px">**</text>
<text x="206.78" y="419.68" class="st" text-anchor="middle" style="letter-spacing:1.4px">*</text>
<text x="137.90" y="478.79" class="st" text-anchor="middle" style="letter-spacing:1.4px">**</text>
<text x="171.74" y="479.99" class="st" text-anchor="middle" style="letter-spacing:1.4px">*</text>
<text x="206.78" y="478.79" class="st" text-anchor="middle" style="letter-spacing:1.4px">***</text>
<text x="139.10" y="498.72" class="st" text-anchor="middle" style="letter-spacing:1.4px">**</text>
<text x="206.78" y="498.72" class="st" text-anchor="middle" style="letter-spacing:1.4px">**</text>
<text x="171.74" y="518.66" class="st" text-anchor="middle" style="letter-spacing:1.4px">***</text>
<text x="206.78" y="518.66" class="st" text-anchor="middle" style="letter-spacing:1.4px">***</text>
<line x1="51.30" y1="292.17" x2="53.30" y2="292.17" stroke="#444" stroke-width="0.8"/>
<text transform="translate(50.30,295.37) scale(1.13,1)" class="rl" text-anchor="end">ap-1</text>
<line x1="51.30" y1="312.10" x2="53.30" y2="312.10" stroke="#444" stroke-width="0.8"/>
<text transform="translate(50.30,315.30) scale(1.13,1)" class="rl" text-anchor="end">muc5ac</text>
<line x1="51.30" y1="332.04" x2="53.30" y2="332.04" stroke="#444" stroke-width="0.8"/>
<text transform="translate(50.30,335.24) scale(1.13,1)" class="rl" text-anchor="end">tnfaip3</text>
<line x1="51.30" y1="351.97" x2="53.30" y2="351.97" stroke="#444" stroke-width="0.8"/>
<text transform="translate(50.30,355.17) scale(1.13,1)" class="rl" text-anchor="end">nf-κb</text>
<line x1="51.30" y1="371.91" x2="53.30" y2="371.91" stroke="#444" stroke-width="0.8"/>
<text transform="translate(50.30,375.11) scale(1.13,1)" class="rl" text-anchor="end">ifnr1</text>
<line x1="51.30" y1="391.85" x2="53.30" y2="391.85" stroke="#444" stroke-width="0.8"/>
<text transform="translate(50.30,395.05) scale(1.13,1)" class="rl" text-anchor="end">nfat</text>
<line x1="51.30" y1="411.78" x2="53.30" y2="411.78" stroke="#444" stroke-width="0.8"/>
<text transform="translate(50.30,414.98) scale(1.13,1)" class="rl" text-anchor="end">litaf</text>
<line x1="51.30" y1="431.72" x2="53.30" y2="431.72" stroke="#444" stroke-width="0.8"/>
<text transform="translate(50.30,434.92) scale(1.13,1)" class="rl" text-anchor="end">irf2-b</text>
<line x1="51.30" y1="451.65" x2="53.30" y2="451.65" stroke="#444" stroke-width="0.8"/>
<text transform="translate(50.30,454.85) scale(1.13,1)" class="rl" text-anchor="end">ilf2</text>
<line x1="51.30" y1="471.59" x2="53.30" y2="471.59" stroke="#444" stroke-width="0.8"/>
<text transform="translate(50.30,474.79) scale(1.13,1)" class="rl" text-anchor="end">inos</text>
<line x1="51.30" y1="491.52" x2="53.30" y2="491.52" stroke="#444" stroke-width="0.8"/>
<text transform="translate(50.30,494.72) scale(1.13,1)" class="rl" text-anchor="end">il-22r</text>
<line x1="51.30" y1="511.46" x2="53.30" y2="511.46" stroke="#444" stroke-width="0.8"/>
<text transform="translate(50.30,514.66) scale(1.13,1)" class="rl" text-anchor="end">il-6r</text>
<line x1="51.30" y1="531.40" x2="53.30" y2="531.40" stroke="#444" stroke-width="0.8"/>
<text transform="translate(50.30,534.60) scale(1.13,1)" class="rl" text-anchor="end">il-17r</text>
<line x1="51.30" y1="551.33" x2="53.30" y2="551.33" stroke="#444" stroke-width="0.8"/>
<text transform="translate(50.30,554.53) scale(1.13,1)" class="rl" text-anchor="end">il-18</text>
<line x1="70.22" y1="561.3" x2="70.22" y2="563.70" stroke="#333" stroke-width="0.8"/>
<text transform="translate(70.22,571.80) scale(1.12,1)" class="cl" text-anchor="middle">Con</text>
<line x1="104.06" y1="561.3" x2="104.06" y2="563.70" stroke="#333" stroke-width="0.8"/>
<text transform="translate(104.06,571.80) scale(1.12,1)" class="cl" text-anchor="middle">T4</text>
<line x1="137.90" y1="561.3" x2="137.90" y2="563.70" stroke="#333" stroke-width="0.8"/>
<text transform="translate(137.90,571.80) scale(1.12,1)" class="cl" text-anchor="middle">MMI</text>
<line x1="171.74" y1="561.3" x2="171.74" y2="563.70" stroke="#333" stroke-width="0.8"/>
<text transform="translate(171.74,571.80) scale(1.12,1)" class="cl" text-anchor="middle">N10</text>
<line x1="205.58" y1="561.3" x2="205.58" y2="563.70" stroke="#333" stroke-width="0.8"/>
<text transform="translate(205.58,571.80) scale(1.12,1)" class="cl" text-anchor="middle">N100</text>
<rect x="232" y="483.7" width="13.80" height="77.90" fill="url(#cbgC)" stroke="#888" stroke-width="0.6"/>
<line x1="245.80" y1="483.70" x2="247.80" y2="483.70" stroke="#555" stroke-width="0.6"/>
<text transform="translate(249.80,486.50) scale(1.0,1)" class="cb" style="font-size:7.0px">1.690</text>
<line x1="245.80" y1="499.28" x2="247.80" y2="499.28" stroke="#555" stroke-width="0.6"/>
<text transform="translate(249.80,502.08) scale(1.0,1)" class="cb" style="font-size:7.0px">1.020</text>
<line x1="245.80" y1="514.86" x2="247.80" y2="514.86" stroke="#555" stroke-width="0.6"/>
<text transform="translate(249.80,517.66) scale(1.0,1)" class="cb" style="font-size:7.0px">0.350</text>
<line x1="245.80" y1="530.44" x2="247.80" y2="530.44" stroke="#555" stroke-width="0.6"/>
<text transform="translate(249.80,533.24) scale(1.0,1)" class="cb" style="font-size:7.0px">−0.320</text>
<line x1="245.80" y1="546.02" x2="247.80" y2="546.02" stroke="#555" stroke-width="0.6"/>
<text transform="translate(249.80,548.82) scale(1.0,1)" class="cb" style="font-size:7.0px">−0.990</text>
<line x1="245.80" y1="561.60" x2="247.80" y2="561.60" stroke="#555" stroke-width="0.6"/>
<text transform="translate(249.80,564.40) scale(1.0,1)" class="cb" style="font-size:7.0px">−1.660</text>
<text transform="translate(6.6,288.8) scale(1.0,1)" class="lt" style="font-size:24px">C</text>
<rect x="326.40" y="281.30" width="33.91" height="20.04" fill="#2460ab"/>
<rect x="360.26" y="281.30" width="33.91" height="20.04" fill="#fae1e2"/>
<rect x="394.12" y="281.30" width="33.91" height="20.04" fill="#dd4e54"/>
<rect x="427.98" y="281.30" width="33.91" height="20.04" fill="#c7d8ec"/>
<rect x="461.84" y="281.30" width="33.91" height="20.04" fill="#e2666b"/>
<rect x="326.40" y="301.29" width="33.91" height="20.04" fill="#fae1e2"/>
<rect x="360.26" y="301.29" width="33.91" height="20.04" fill="#80a3d1"/>
<rect x="394.12" y="301.29" width="33.91" height="20.04" fill="#5f8cc6"/>
<rect x="427.98" y="301.29" width="33.91" height="20.04" fill="#eea0a4"/>
<rect x="461.84" y="301.29" width="33.91" height="20.04" fill="#d62a32"/>
<rect x="326.40" y="321.27" width="33.91" height="20.04" fill="#80a3d1"/>
<rect x="360.26" y="321.27" width="33.91" height="20.04" fill="#4b7ebd"/>
<rect x="394.12" y="321.27" width="33.91" height="20.04" fill="#dd4e54"/>
<rect x="427.98" y="321.27" width="33.91" height="20.04" fill="#f4c2c4"/>
<rect x="461.84" y="321.27" width="33.91" height="20.04" fill="#e2666b"/>
<rect x="326.40" y="341.26" width="33.91" height="20.04" fill="#084aa0"/>
<rect x="360.26" y="341.26" width="33.91" height="20.04" fill="#eaf0f8"/>
<rect x="394.12" y="341.26" width="33.91" height="20.04" fill="#eea0a4"/>
<rect x="427.98" y="341.26" width="33.91" height="20.04" fill="#df5a60"/>
<rect x="461.84" y="341.26" width="33.91" height="20.04" fill="#e8898d"/>
<rect x="326.40" y="361.24" width="33.91" height="20.04" fill="#467aba"/>
<rect x="360.26" y="361.24" width="33.91" height="20.04" fill="#c7d8ec"/>
<rect x="394.12" y="361.24" width="33.91" height="20.04" fill="#d62a32"/>
<rect x="427.98" y="361.24" width="33.91" height="20.04" fill="#eea0a4"/>
<rect x="461.84" y="361.24" width="33.91" height="20.04" fill="#f7ccce"/>
<rect x="326.40" y="381.23" width="33.91" height="20.04" fill="#1a59a8"/>
<rect x="360.26" y="381.23" width="33.91" height="20.04" fill="#f7ccce"/>
<rect x="394.12" y="381.23" width="33.91" height="20.04" fill="#e2666b"/>
<rect x="427.98" y="381.23" width="33.91" height="20.04" fill="#c7d8ec"/>
<rect x="461.84" y="381.23" width="33.91" height="20.04" fill="#e2666b"/>
<rect x="326.40" y="401.21" width="33.91" height="20.04" fill="#2460ab"/>
<rect x="360.26" y="401.21" width="33.91" height="20.04" fill="#f9d7d8"/>
<rect x="394.12" y="401.21" width="33.91" height="20.04" fill="#fae1e2"/>
<rect x="427.98" y="401.21" width="33.91" height="20.04" fill="#d62a32"/>
<rect x="461.84" y="401.21" width="33.91" height="20.04" fill="#fef5f5"/>
<rect x="326.40" y="421.20" width="33.91" height="20.04" fill="#80a3d1"/>
<rect x="360.26" y="421.20" width="33.91" height="20.04" fill="#6f98cc"/>
<rect x="394.12" y="421.20" width="33.91" height="20.04" fill="#db4248"/>
<rect x="427.98" y="421.20" width="33.91" height="20.04" fill="#e47176"/>
<rect x="461.84" y="421.20" width="33.91" height="20.04" fill="#fef5f5"/>
<rect x="326.40" y="441.19" width="33.91" height="20.04" fill="#084aa0"/>
<rect x="360.26" y="441.19" width="33.91" height="20.04" fill="#fae1e2"/>
<rect x="394.12" y="441.19" width="33.91" height="20.04" fill="#db4248"/>
<rect x="427.98" y="441.19" width="33.91" height="20.04" fill="#f9d7d8"/>
<rect x="461.84" y="441.19" width="33.91" height="20.04" fill="#f0acaf"/>
<rect x="326.40" y="461.17" width="33.91" height="20.04" fill="#084aa0"/>
<rect x="360.26" y="461.17" width="33.91" height="20.04" fill="#df5a60"/>
<rect x="394.12" y="461.17" width="33.91" height="20.04" fill="#f9d7d8"/>
<rect x="427.98" y="461.17" width="33.91" height="20.04" fill="#d4e2f1"/>
<rect x="461.84" y="461.17" width="33.91" height="20.04" fill="#df5a60"/>
<rect x="326.40" y="481.16" width="33.91" height="20.04" fill="#467aba"/>
<rect x="360.26" y="481.16" width="33.91" height="20.04" fill="#96b3d9"/>
<rect x="394.12" y="481.16" width="33.91" height="20.04" fill="#dd4e54"/>
<rect x="427.98" y="481.16" width="33.91" height="20.04" fill="#e67d82"/>
<rect x="461.84" y="481.16" width="33.91" height="20.04" fill="#f2b7b9"/>
<rect x="326.40" y="501.14" width="33.91" height="20.04" fill="#467aba"/>
<rect x="360.26" y="501.14" width="33.91" height="20.04" fill="#adc4e1"/>
<rect x="394.12" y="501.14" width="33.91" height="20.04" fill="#d62a32"/>
<rect x="427.98" y="501.14" width="33.91" height="20.04" fill="#f4c2c4"/>
<rect x="461.84" y="501.14" width="33.91" height="20.04" fill="#eea0a4"/>
<rect x="326.40" y="521.13" width="33.91" height="20.04" fill="#bacee6"/>
<rect x="360.26" y="521.13" width="33.91" height="20.04" fill="#6f98cc"/>
<rect x="394.12" y="521.13" width="33.91" height="20.04" fill="#df5a60"/>
<rect x="427.98" y="521.13" width="33.91" height="20.04" fill="#d4e2f1"/>
<rect x="461.84" y="521.13" width="33.91" height="20.04" fill="#dd4e54"/>
<rect x="326.40" y="541.11" width="33.91" height="20.04" fill="#90aed6"/>
<rect x="360.26" y="541.11" width="33.91" height="20.04" fill="#5f8cc6"/>
<rect x="394.12" y="541.11" width="33.91" height="20.04" fill="#d62a32"/>
<rect x="427.98" y="541.11" width="33.91" height="20.04" fill="#f0acaf"/>
<rect x="461.84" y="541.11" width="33.91" height="20.04" fill="#f4c2c4"/>
<line x1="360.26" y1="281.3" x2="360.26" y2="561.1" stroke="#cccccc" stroke-width="0.9"/>
<line x1="394.12" y1="281.3" x2="394.12" y2="561.1" stroke="#cccccc" stroke-width="0.9"/>
<line x1="427.98" y1="281.3" x2="427.98" y2="561.1" stroke="#cccccc" stroke-width="0.9"/>
<line x1="461.84" y1="281.3" x2="461.84" y2="561.1" stroke="#cccccc" stroke-width="0.9"/>
<line x1="326.4" y1="301.29" x2="495.7" y2="301.29" stroke="#cccccc" stroke-width="0.9"/>
<line x1="326.4" y1="321.27" x2="495.7" y2="321.27" stroke="#cccccc" stroke-width="0.9"/>
<line x1="326.4" y1="341.26" x2="495.7" y2="341.26" stroke="#cccccc" stroke-width="0.9"/>
<line x1="326.4" y1="361.24" x2="495.7" y2="361.24" stroke="#cccccc" stroke-width="0.9"/>
<line x1="326.4" y1="381.23" x2="495.7" y2="381.23" stroke="#cccccc" stroke-width="0.9"/>
<line x1="326.4" y1="401.21" x2="495.7" y2="401.21" stroke="#cccccc" stroke-width="0.9"/>
<line x1="326.4" y1="421.20" x2="495.7" y2="421.20" stroke="#cccccc" stroke-width="0.9"/>
<line x1="326.4" y1="441.19" x2="495.7" y2="441.19" stroke="#cccccc" stroke-width="0.9"/>
<line x1="326.4" y1="461.17" x2="495.7" y2="461.17" stroke="#cccccc" stroke-width="0.9"/>
<line x1="326.4" y1="481.16" x2="495.7" y2="481.16" stroke="#cccccc" stroke-width="0.9"/>
<line x1="326.4" y1="501.14" x2="495.7" y2="501.14" stroke="#cccccc" stroke-width="0.9"/>
<line x1="326.4" y1="521.13" x2="495.7" y2="521.13" stroke="#cccccc" stroke-width="0.9"/>
<line x1="326.4" y1="541.11" x2="495.7" y2="541.11" stroke="#cccccc" stroke-width="0.9"/>
<rect x="326.4" y="281.3" width="169.30" height="279.80" fill="none" stroke="#7a7a7a" stroke-width="0.9"/>
<text x="377.19" y="298.49" class="st" text-anchor="middle" style="letter-spacing:1.3px">***</text>
<text x="411.05" y="298.49" class="st" text-anchor="middle" style="letter-spacing:1.3px">***</text>
<text x="444.91" y="298.49" class="st" text-anchor="middle" style="letter-spacing:1.3px">*</text>
<text x="478.77" y="298.49" class="st" text-anchor="middle" style="letter-spacing:1.3px">***</text>
<text x="377.19" y="318.48" class="st" text-anchor="middle" style="letter-spacing:1.3px">***</text>
<text x="411.05" y="318.48" class="st" text-anchor="middle" style="letter-spacing:1.3px">***</text>
<text x="478.77" y="318.48" class="st" text-anchor="middle" style="letter-spacing:1.3px">***</text>
<text x="411.05" y="378.44" class="st" text-anchor="middle" style="letter-spacing:1.3px">*</text>
<text x="377.19" y="419.11" class="st" text-anchor="middle" style="letter-spacing:1.3px">*</text>
<text x="444.91" y="419.11" class="st" text-anchor="middle" style="letter-spacing:1.3px">***</text>
<text x="478.77" y="419.11" class="st" text-anchor="middle" style="letter-spacing:1.3px">*</text>
<text x="411.05" y="458.38" class="st" text-anchor="middle" style="letter-spacing:1.3px">*</text>
<text x="377.19" y="478.36" class="st" text-anchor="middle" style="letter-spacing:1.3px">***</text>
<text x="411.05" y="478.36" class="st" text-anchor="middle" style="letter-spacing:1.3px">**</text>
<text x="444.91" y="478.36" class="st" text-anchor="middle" style="letter-spacing:1.3px">*</text>
<text x="478.77" y="478.36" class="st" text-anchor="middle" style="letter-spacing:1.3px">***</text>
<text x="411.05" y="518.34" class="st" text-anchor="middle" style="letter-spacing:1.3px">*</text>
<text x="411.05" y="538.32" class="st" text-anchor="middle" style="letter-spacing:1.3px">**</text>
<text x="479.97" y="538.32" class="st" text-anchor="middle" style="letter-spacing:1.3px">**</text>
<line x1="324.40" y1="291.29" x2="326.40" y2="291.29" stroke="#444" stroke-width="0.8"/>
<text transform="translate(323.40,294.49) scale(1.13,1)" class="rl" text-anchor="end">n-myc</text>
<line x1="324.40" y1="311.28" x2="326.40" y2="311.28" stroke="#444" stroke-width="0.8"/>
<text transform="translate(323.40,314.48) scale(1.13,1)" class="rl" text-anchor="end">hif-1α</text>
<line x1="324.40" y1="331.26" x2="326.40" y2="331.26" stroke="#444" stroke-width="0.8"/>
<text transform="translate(323.40,334.46) scale(1.13,1)" class="rl" text-anchor="end">cas9</text>
<line x1="324.40" y1="351.25" x2="326.40" y2="351.25" stroke="#444" stroke-width="0.8"/>
<text transform="translate(323.40,354.45) scale(1.13,1)" class="rl" text-anchor="end">53bp1</text>
<line x1="324.40" y1="371.24" x2="326.40" y2="371.24" stroke="#444" stroke-width="0.8"/>
<text transform="translate(323.40,374.44) scale(1.13,1)" class="rl" text-anchor="end">apaf1</text>
<line x1="324.40" y1="391.22" x2="326.40" y2="391.22" stroke="#444" stroke-width="0.8"/>
<text transform="translate(323.40,394.42) scale(1.13,1)" class="rl" text-anchor="end">tp53</text>
<line x1="324.40" y1="411.21" x2="326.40" y2="411.21" stroke="#444" stroke-width="0.8"/>
<text transform="translate(323.40,414.41) scale(1.13,1)" class="rl" text-anchor="end">pidd</text>
<line x1="324.40" y1="431.19" x2="326.40" y2="431.19" stroke="#444" stroke-width="0.8"/>
<text transform="translate(323.40,434.39) scale(1.13,1)" class="rl" text-anchor="end">perp</text>
<line x1="324.40" y1="451.18" x2="326.40" y2="451.18" stroke="#444" stroke-width="0.8"/>
<text transform="translate(323.40,454.38) scale(1.13,1)" class="rl" text-anchor="end">bcor</text>
<line x1="324.40" y1="471.16" x2="326.40" y2="471.16" stroke="#444" stroke-width="0.8"/>
<text transform="translate(323.40,474.36) scale(1.13,1)" class="rl" text-anchor="end">bclaf-1</text>
<line x1="324.40" y1="491.15" x2="326.40" y2="491.15" stroke="#444" stroke-width="0.8"/>
<text transform="translate(323.40,494.35) scale(1.13,1)" class="rl" text-anchor="end">bcl-2</text>
<line x1="324.40" y1="511.14" x2="326.40" y2="511.14" stroke="#444" stroke-width="0.8"/>
<text transform="translate(323.40,514.34) scale(1.13,1)" class="rl" text-anchor="end">bax</text>
<line x1="324.40" y1="531.12" x2="326.40" y2="531.12" stroke="#444" stroke-width="0.8"/>
<text transform="translate(323.40,534.32) scale(1.13,1)" class="rl" text-anchor="end">bnip3</text>
<line x1="324.40" y1="551.11" x2="326.40" y2="551.11" stroke="#444" stroke-width="0.8"/>
<text transform="translate(323.40,554.31) scale(1.13,1)" class="rl" text-anchor="end">tnfrsf1a</text>
<line x1="343.33" y1="561.1" x2="343.33" y2="563.50" stroke="#333" stroke-width="0.8"/>
<text transform="translate(343.33,571.60) scale(1.12,1)" class="cl" text-anchor="middle">Con</text>
<line x1="377.19" y1="561.1" x2="377.19" y2="563.50" stroke="#333" stroke-width="0.8"/>
<text transform="translate(377.19,571.60) scale(1.12,1)" class="cl" text-anchor="middle">T4</text>
<line x1="411.05" y1="561.1" x2="411.05" y2="563.50" stroke="#333" stroke-width="0.8"/>
<text transform="translate(411.05,571.60) scale(1.12,1)" class="cl" text-anchor="middle">MMI</text>
<line x1="444.91" y1="561.1" x2="444.91" y2="563.50" stroke="#333" stroke-width="0.8"/>
<text transform="translate(444.91,571.60) scale(1.12,1)" class="cl" text-anchor="middle">N10</text>
<line x1="478.77" y1="561.1" x2="478.77" y2="563.50" stroke="#333" stroke-width="0.8"/>
<text transform="translate(478.77,571.60) scale(1.12,1)" class="cl" text-anchor="middle">N100</text>
<rect x="505.7" y="483.4" width="13.30" height="77.30" fill="url(#cbgD)" stroke="#888" stroke-width="0.6"/>
<line x1="519.00" y1="483.40" x2="521.00" y2="483.40" stroke="#555" stroke-width="0.6"/>
<text transform="translate(523.50,486.20) scale(0.98,1)" class="cb" style="font-size:6.8px">1.500</text>
<line x1="519.00" y1="498.86" x2="521.00" y2="498.86" stroke="#555" stroke-width="0.6"/>
<text transform="translate(523.50,501.66) scale(0.98,1)" class="cb" style="font-size:6.8px">0.888</text>
<line x1="519.00" y1="514.32" x2="521.00" y2="514.32" stroke="#555" stroke-width="0.6"/>
<text transform="translate(523.50,517.12) scale(0.98,1)" class="cb" style="font-size:6.8px">0.276</text>
<line x1="519.00" y1="529.78" x2="521.00" y2="529.78" stroke="#555" stroke-width="0.6"/>
<text transform="translate(523.50,532.58) scale(0.98,1)" class="cb" style="font-size:6.8px">−0.336</text>
<line x1="519.00" y1="545.24" x2="521.00" y2="545.24" stroke="#555" stroke-width="0.6"/>
<text transform="translate(523.50,548.04) scale(0.98,1)" class="cb" style="font-size:6.8px">−0.948</text>
<line x1="519.00" y1="560.70" x2="521.00" y2="560.70" stroke="#555" stroke-width="0.6"/>
<text transform="translate(523.50,563.50) scale(0.98,1)" class="cb" style="font-size:6.8px">−1.560</text>
<text transform="translate(269.0,287.7) scale(1.0,1)" class="lt" style="">D</text>
</svg>
</body></html>
